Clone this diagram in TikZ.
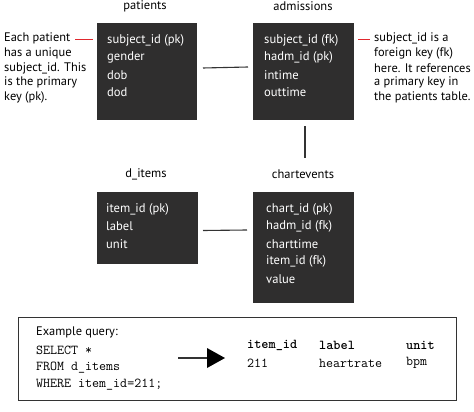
\documentclass[tikz,border=0pt]{standalone}
\usepackage{fontspec}
\setmainfont{PT Sans}
\definecolor{boxfill}{HTML}{2F2E2E}
\definecolor{keyred}{HTML}{E0282E}
\definecolor{linegray}{HTML}{333333}
\begin{document}
\begin{tikzpicture}[x=1pt,y=-1pt,
  tbl/.style={fill=boxfill,draw=boxfill,line width=0.5pt},
  ttl/.style={font=\fontsize{12.5}{14}\selectfont,text=black,anchor=center,inner sep=0pt},
  fld/.style={font=\fontsize{12.6}{14}\selectfont,text=white,anchor=west,inner sep=0pt},
  note/.style={font=\fontsize{12.4}{14}\selectfont,text=black,anchor=west,inner sep=0pt},
  conn/.style={draw=linegray,line width=1.1pt},
  redl/.style={draw=keyred,line width=1.6pt},
  code/.style={font=\ttfamily\fontsize{13.6}{15}\selectfont,text=black,anchor=west,inner sep=0pt},
  codeb/.style={font=\ttfamily\bfseries\fontsize{13.6}{15}\selectfont,text=black,anchor=west,inner sep=0pt}]
\useasboundingbox (0,0) rectangle (474,412);
% patients
\node[ttl] (tp) at (145,6) {patients};
\path[tbl] (97,23) rectangle (196,119);
\coordinate (pR) at (203,68);
\node[fld] (p1) at (107,40) {subject\_id (pk)};
\node[fld] (p2) at (107,57.5) {gender};
\node[fld] (p3) at (107,75) {dob};
\node[fld] (p4) at (107,92.5) {dod};
% admissions
\node[ttl] (ta) at (303,6) {admissions};
\path[tbl] (253,23) rectangle (353,119);
\coordinate (aL) at (248,67);
\coordinate (aB) at (305,126);
\node[fld] (a1) at (264,40) {subject\_id (fk)};
\node[fld] (a2) at (264,57.5) {hadm\_id (pk)};
\node[fld] (a3) at (264,75) {intime};
\node[fld] (a4) at (264,92.5) {outtime};
% notes
\node[note] (n1) at (4,38) {Each patient};
\node[note] (n2) at (4,53) {has a unique};
\node[note] (n3) at (4,68) {subject\_id. This};
\node[note] (n4) at (4,82.5) {is the primary};
\node[note] (n5) at (4,97) {key (pk).};
\coordinate (r1a) at (75,39.5); \coordinate (r1b) at (93,39.5);
\draw[redl] (r1a) -- (r1b);
\node[note] (m1) at (374,38) {subject\_id is a};
\node[note] (m2) at (374,53) {foreign key (fk)};
\node[note] (m3) at (374,68) {here. It references};
\node[note] (m4) at (374,82.5) {a primary key in};
\node[note] (m5) at (374,97) {the patients table.};
\coordinate (r2a) at (358,39.5); \coordinate (r2b) at (370,39.5);
\draw[redl] (r2a) -- (r2b);
% d_items
\node[ttl] (td) at (146,174) {d\_items};
\path[tbl] (97,192) rectangle (197,263);
\coordinate (dR) at (203,230.5);
\node[fld] (d1) at (106,209) {item\_id (pk)};
\node[fld] (d2) at (106,226.5) {label};
\node[fld] (d3) at (106,244) {unit};
% chartevents
\node[ttl] (tc) at (303,174) {chartevents};
\coordinate (cT) at (305,158);
\coordinate (cL) at (247,230);
\path[tbl] (253,192) rectangle (353,302);
\node[fld] (c1) at (266,209) {chart\_id (pk)};
\node[fld] (c2) at (266,226.5) {hadm\_id (fk)};
\node[fld] (c3) at (266,244) {charttime};
\node[fld] (c4) at (266,261.5) {item\_id (fk)};
\node[fld] (c5) at (266,279) {value};
% connectors
\draw[conn] (pR) -- (aL);
\draw[conn] (aB) -- (cT);
\draw[conn] (dR) -- (cL);
% query box
\draw[draw=linegray,line width=0.8pt] (18,317) rectangle (456,400);
\node[note] (q0) at (36,332) {Example query:};
\node[code] (q1) at (36,350) {SELECT *};
\node[code] (q2) at (36,367.5) {FROM d\_items};
\node[code] (q3) at (36,385) {WHERE item\_id=211;};
\coordinate (arA) at (178,358);
\coordinate (arB) at (208,358);
\draw[conn,line width=1.4pt] (arA) -- (arB);
\fill[black] (207,348) -- (225,358) -- (207,368) -- cycle;
\node[codeb] (h1) at (247,345) {item\_id};
\node[codeb] (h2) at (319,345) {label};
\node[codeb] (h3) at (406,345) {unit};
\node[code] (v1) at (247,363) {211};
\node[code] (v2) at (319,363) {heartrate};
\node[code] (v3) at (406,363) {bpm};
\end{tikzpicture}
\end{document}
